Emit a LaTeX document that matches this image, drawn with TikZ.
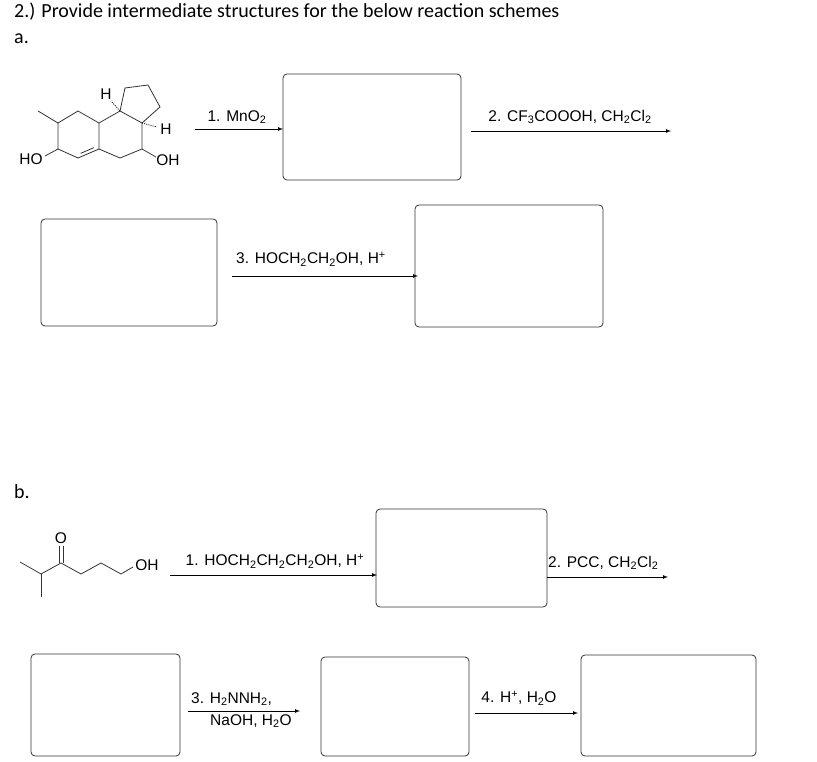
\documentclass[tikz,border=0pt]{standalone}
\usepackage{fontspec}
\setmainfont{Liberation Sans}
\newfontfamily\calib{Carlito}
\usetikzlibrary{calc}
\newcommand{\sbs}[1]{\textsubscript{#1}}
\newcommand{\sps}[1]{\textsuperscript{#1}}
\begin{document}
\begin{tikzpicture}[x=1pt,y=-1pt,
  bx/.style={draw=black!80,rounded corners=4pt,line width=0.8pt},
  rx/.style={-latex,line width=0.7pt},
  lab/.style={font=\fontsize{15.5}{18}\selectfont,inner sep=0pt},
  bd/.style={line width=0.8pt,black!80},
  hs/.style={line width=0.8pt,dash pattern=on 1pt off 1.2pt}]
\useasboundingbox (0,0) rectangle (817,762);
\node[anchor=west,font=\calib\fontsize{20}{22}\selectfont,inner sep=0pt] (title) at (14,12) {2.) Provide intermediate structures for the below reaction schemes};
\node[anchor=west,font=\calib\fontsize{20}{22}\selectfont,inner sep=0pt] (la) at (14,39) {a.};
\node[anchor=west,font=\calib\fontsize{20}{22}\selectfont,inner sep=0pt] (lb) at (14,492) {b.};
% boxes
\draw[bx] (283,74) rectangle (461,180);
\draw[bx] (41,219) rectangle (217,326);
\draw[bx] (415,205) rectangle (603,327);
\draw[bx] (376,509) rectangle (547,607);
\draw[bx] (31,654) rectangle (180,756);
\draw[bx] (321,657) rectangle (469,756);
\draw[bx] (581,655) rectangle (756,756);
% arrows
\coordinate (a1s) at (195,129); \coordinate (a1e) at (283,129);
\draw[rx] (a1s) -- (a1e);
\node[lab] (t1) at (237,117) {1. MnO\sbs{2}};
\coordinate (a2s) at (471,131); \coordinate (a2e) at (671,131);
\draw[rx] (a2s) -- (a2e);
\node[lab] (t2) at (570,117) {2. CF\sbs{3}COOOH, CH\sbs{2}Cl\sbs{2}};
\coordinate (a3s) at (232,276); \coordinate (a3e) at (418,276);
\draw[rx] (a3s) -- (a3e);
\node[lab] (t3) at (311,259) {3. HOCH\sbs{2}CH\sbs{2}OH, H\sps{+}};
\coordinate (b1s) at (170,575); \coordinate (b1e) at (377,575);
\draw[rx] (b1s) -- (b1e);
\node[lab] (t4) at (275,561) {1. HOCH\sbs{2}CH\sbs{2}CH\sbs{2}OH, H\sps{+}};
\coordinate (b2s) at (547,577); \coordinate (b2e) at (668,577);
\draw[rx] (b2s) -- (b2e);
\node[lab,anchor=west] (t5) at (548,563) {2. PCC, CH\sbs{2}Cl\sbs{2}};
\coordinate (b3s) at (188,711); \coordinate (b3e) at (300,711);
\draw[rx] (b3s) -- (b3e);
\node[lab,anchor=west] (t6) at (191,699) {3. H\sbs{2}NNH\sbs{2},};
\node[lab,anchor=west] (t7) at (210,721) {NaOH, H\sbs{2}O};
\coordinate (b4s) at (475,713); \coordinate (b4e) at (578,713);
\draw[rx] (b4s) -- (b4e);
\node[lab] (t8) at (519,698) {4. H\sps{+}, H\sbs{2}O};
% molecule a
\coordinate (m) at (38,111); \coordinate (c1) at (58,123); \coordinate (c2) at (58,149);
\coordinate (c3) at (78,158); \coordinate (c4) at (99,149); \coordinate (c5) at (99,123);
\coordinate (c6) at (78,111); \coordinate (c7) at (120,111); \coordinate (c8) at (142,123);
\coordinate (c9) at (142,149); \coordinate (c10) at (120,158);
\coordinate (p1) at (125,88); \coordinate (p2) at (148,85); \coordinate (p3) at (160,107);
\draw[bd] (m)--(c1)--(c2)--(c3)--(c4)--(c5)--(c6)--(c1);
\draw[bd] (c5)--(c7)--(c8)--(c9)--(c10)--(c4);
\draw[bd] (c7)--(p1)--(p2)--(p3)--(c8);
\draw[bd] ($(c3)!0.18!(c4)+(-1.2,-3)$) -- ($(c3)!0.82!(c4)+(-1.2,-3)$);
\node[lab] (ho) at (31,159) {HO};
\draw[bd] (c2)--(45,156);
\node[lab] (oh) at (168,160) {OH};
\draw[bd] (c9)--(156,157);
\node[lab] (h1) at (106,94) {H};
\node[lab] (h2) at (166,129) {H};
\draw[hs] (c7)--(111,101);
\draw[hs] (c8)--(157,127);
% molecule b
\coordinate (n0) at (20,562); \coordinate (n1) at (41,574); \coordinate (n2) at (41,597);
\coordinate (n3) at (61,563); \coordinate (n4) at (81,574); \coordinate (n5) at (101,563);
\coordinate (n6) at (121,574);
\draw[bd] (n0)--(n1)--(n3)--(n4)--(n5)--(n6)--(133,567);
\draw[bd] (n1)--(n2);
\draw[bd] (59,563)--(59,546); \draw[bd] (63,563)--(63,546);
\node[lab] (ob) at (61,538) {O};
\node[lab] (ohb) at (147,565) {OH};
\end{tikzpicture}
\end{document}
